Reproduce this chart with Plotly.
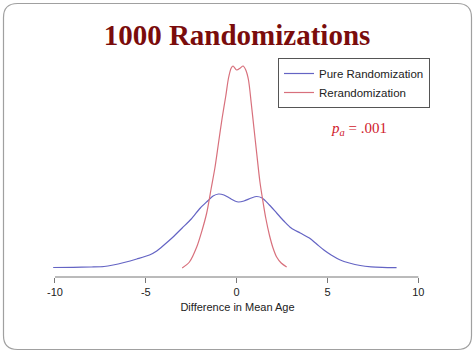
import plotly.graph_objects as go

# ---- data (y in density units) ----
pure_x = [-10.1, -9, -8, -7.3, -6.8, -6.2, -5.5, -4.8, -4.4, -4.0, -3.5, -3.0, -2.5, -2.0,
          -1.6, -1.3, -1.0, -0.7, -0.4, -0.1, 0.1, 0.4, 0.8, 1.1, 1.4, 1.8, 2.2, 2.6,
          3.0, 3.5, 4.0, 4.4, 4.8, 5.2, 5.7, 6.2, 6.8, 7.4, 8.0, 8.8]
pure_y = [0.001, 0.0014, 0.002, 0.003, 0.006, 0.011, 0.018, 0.026, 0.034, 0.046, 0.062,
          0.08, 0.098, 0.12, 0.134, 0.144, 0.148, 0.146, 0.14, 0.134, 0.132, 0.134,
          0.14, 0.143, 0.14, 0.126, 0.11, 0.094, 0.08, 0.07, 0.06, 0.048, 0.036,
          0.026, 0.016, 0.01, 0.005, 0.0024, 0.0012, 0.0006]

rerand_x = [-3.0, -2.6, -2.2, -1.9, -1.65, -1.4, -1.2, -1.0, -0.8, -0.6, -0.45, -0.3,
            -0.2, 0.0, 0.2, 0.35, 0.5, 0.65, 0.8, 0.95, 1.1, 1.28, 1.45, 1.6, 1.8,
            2.0, 2.2, 2.45, 2.75]
rerand_y = [0.0, 0.012, 0.042, 0.076, 0.11, 0.16, 0.2, 0.25, 0.3, 0.344, 0.38, 0.4,
            0.404, 0.396, 0.4, 0.404, 0.396, 0.376, 0.33, 0.28, 0.23, 0.172, 0.132,
            0.1, 0.066, 0.04, 0.022, 0.01, 0.002]

tick_vals = [-10, -5, 0, 5, 10]
tick_text = ["-10", "-5", "0", "5", "10"]
series_names = ["Pure Randomization", "Rerandomization"]
title_text = "1000 Randomizations"
xaxis_title = "Difference in Mean Age"
p_text = "<i>p</i><sub><i>a</i></sub> = .001"

W, H = 474, 355

fig = go.Figure()
fig.add_trace(go.Scatter(x=pure_x, y=pure_y, mode="lines", name=series_names[0],
                         line=dict(color="#6464c4", width=1.2, shape="spline", smoothing=0.8)))
fig.add_trace(go.Scatter(x=rerand_x, y=rerand_y, mode="lines", name=series_names[1],
                         line=dict(color="#d8707c", width=1.2, shape="spline", smoothing=0.8)))

# axis line from first to last tick (R style)
fig.add_shape(type="line", xref="x", yref="paper", x0=-10, x1=10,
              y0=1 - 277 / H, y1=1 - 277 / H, line=dict(color="#777777", width=1))

# rounded slide border
def px(x):
    return x / W

def py(y):
    return 1 - y / H

l, r, t, b, rad = 3.5, 471.5, 3.5, 349.5, 14
path = (f"M {px(l+rad)},{py(t)} L {px(r-rad)},{py(t)} Q {px(r)},{py(t)} {px(r)},{py(t+rad)} "
        f"L {px(r)},{py(b-rad)} Q {px(r)},{py(b)} {px(r-rad)},{py(b)} "
        f"L {px(l+rad)},{py(b)} Q {px(l)},{py(b)} {px(l)},{py(b-rad)} "
        f"L {px(l)},{py(t+rad)} Q {px(l)},{py(t)} {px(l+rad)},{py(t)} Z")
fig.add_shape(type="path", xref="paper", yref="paper", path=path,
              line=dict(color="#a0a0a0", width=1.2), layer="below")

fig.add_annotation(x=359 / W, y=1 - 129 / H, xref="paper", yref="paper",
                   text=p_text, showarrow=False, xanchor="center", yanchor="middle",
                   font=dict(family="Liberation Serif", size=15, color="#d0202c"))

fig.update_layout(
    width=W, height=H,
    margin=dict(l=0, r=0, t=0, b=0),
    paper_bgcolor="white", plot_bgcolor="white",
    title=dict(text=title_text, x=0.5, xanchor="center", y=1 - 35 / H, yanchor="middle",
               font=dict(family="Liberation Serif", size=29, color="#7a0c0c", weight="bold")),
    xaxis=dict(domain=[45 / W, 430 / W], range=[-10.55, 10.64], showgrid=False,
               zeroline=False, showline=False, ticks="outside", ticklen=5, tickwidth=1,
               tickcolor="#777777", tickvals=tick_vals, ticktext=tick_text,
               tickfont=dict(family="Liberation Sans", size=11, color="#222222"),
               title=dict(text=xaxis_title, standoff=6,
                          font=dict(family="Liberation Sans", size=11, color="#222222"))),
    yaxis=dict(domain=[1 - 277 / H, 1 - 55 / H], range=[-0.018, 0.426], visible=False),
    legend=dict(x=278 / W, y=1 - 58 / H, xanchor="left", yanchor="top",
                bordercolor="#555555", borderwidth=1, bgcolor="white",
                font=dict(family="Liberation Sans", size=11.5, color="#222222"),
                tracegroupgap=0),
    showlegend=True,
)

fig.write_html("out.html", config={"displayModeBar": False},
               post_script="document.body.style.margin='0';document.body.style.overflow='hidden';")
